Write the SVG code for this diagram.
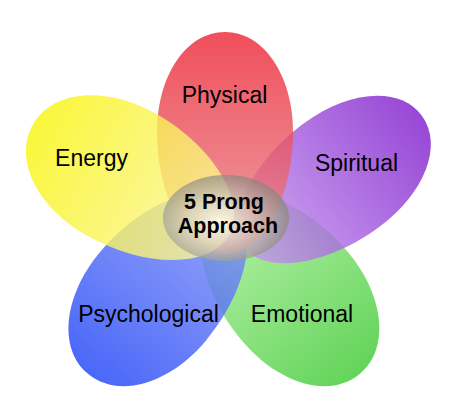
<svg xmlns="http://www.w3.org/2000/svg" xmlns:xlink="http://www.w3.org/1999/xlink" width="457" height="411" viewBox="0 0 457 411">
  <defs>
    <path id="egg" d="M -1 0 C -1 -0.58 -0.597 -1 -0.1 -1 C 0.508 -1 1 -0.525 1 0 C 1 0.525 0.508 1 -0.1 1 C -0.597 1 -1 0.58 -1 0 Z"/>
    <linearGradient id="gRed" x1="0" y1="0" x2="1" y2="0">
      <stop offset="0" stop-color="#EC2231"/>
      <stop offset="1" stop-color="#E88A90"/>
    </linearGradient>
    <linearGradient id="gYellow" x1="0" y1="0" x2="1" y2="0">
      <stop offset="0" stop-color="#F9F40B"/>
      <stop offset="1" stop-color="#FBF5A5"/>
    </linearGradient>
    <linearGradient id="gPurple" x1="0" y1="0" x2="1" y2="0">
      <stop offset="0" stop-color="#7E1ACC"/>
      <stop offset="1" stop-color="#C495EF"/>
    </linearGradient>
    <linearGradient id="gGreen" x1="0" y1="0" x2="1" y2="0">
      <stop offset="0" stop-color="#3DC931"/>
      <stop offset="1" stop-color="#A8F096"/>
    </linearGradient>
    <linearGradient id="gBlue" x1="0" y1="0" x2="1" y2="0">
      <stop offset="0" stop-color="#1D42F6"/>
      <stop offset="1" stop-color="#8090F8"/>
    </linearGradient>
    <radialGradient id="gCenter" cx="0.45" cy="0.55" r="0.55">
      <stop offset="0" stop-color="#FFFBEE" stop-opacity="0.9"/>
      <stop offset="0.45" stop-color="#D8D2C4" stop-opacity="0.75"/>
      <stop offset="1" stop-color="#8C877C" stop-opacity="0.7"/>
    </radialGradient>
  </defs>
  <style>
    .petal { fill-opacity: 0.8; }
    .lbl { font-family: "Liberation Sans", Arial, sans-serif; font-size: 23px; fill: #000; text-anchor: middle; }
    .hub { font-family: "Liberation Sans", Arial, sans-serif; font-size: 21.5px; font-weight: bold; fill: #000; text-anchor: middle; }
  </style>
  <rect width="457" height="411" fill="#fff"/>
  <g id="emotional">
    <use xlink:href="#egg" href="#egg" class="petal" transform="translate(288,288) rotate(230) scale(112,69)" fill="url(#gGreen)"/>
    <text class="lbl" x="302" y="322">Emotional</text>
  </g>
  <g id="psychological">
    <use xlink:href="#egg" href="#egg" class="petal" transform="translate(160,288) rotate(-50) scale(112,69)" fill="url(#gBlue)"/>
    <text class="lbl" x="148.5" y="322">Psychological</text>
  </g>
  <g id="spiritual">
    <use xlink:href="#egg" href="#egg" class="petal" transform="translate(333,181.5) rotate(143.3) scale(110.6,64)" fill="url(#gPurple)"/>
    <text class="lbl" x="356.5" y="171">Spiritual</text>
  </g>
  <g id="physical">
    <use xlink:href="#egg" href="#egg" class="petal" transform="translate(225,143) rotate(90) scale(111,68)" fill="url(#gRed)"/>
    <text class="lbl" x="224.5" y="103">Physical</text>
  </g>
  <g id="energy">
    <use xlink:href="#egg" href="#egg" class="petal" transform="translate(131,180) rotate(29.4) scale(112.6,70)" fill="url(#gYellow)"/>
    <text class="lbl" x="91.5" y="166">Energy</text>
  </g>
  <g id="center">
    <ellipse cx="226" cy="218" rx="63" ry="43" fill="url(#gCenter)"/>
    <text class="hub" x="224" y="208.5">5 Prong</text>
    <text class="hub" x="228" y="232.5">Approach</text>
  </g>
  <g id="connectors"/>
</svg>
